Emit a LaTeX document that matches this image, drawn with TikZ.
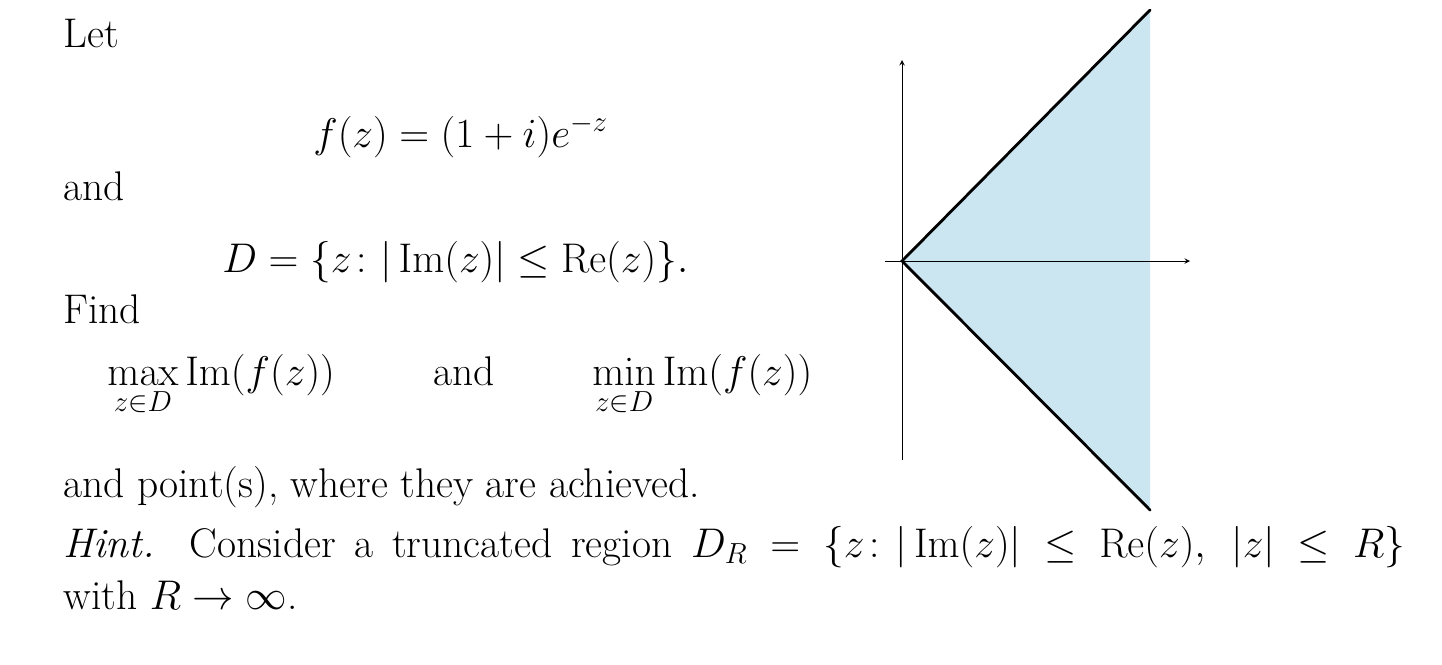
\RequirePackage{fix-cm}
\documentclass[tikz,border=0pt]{standalone}
\usepackage{amsmath}
\usepackage{amssymb}
\definecolor{regionblue}{RGB}{203,229,241}
\tikzset{
	txt/.style    = {anchor=base west, inner sep=0pt, font=\fontsize{23.6}{30}\selectfont},
	axis/.style   = {->, thin, >=stealth},
	edge/.style   = {line width=1.6pt, line cap=round},
	region/.style = {fill=regionblue}
}
\begin{document}
\begin{tikzpicture}[x=0.02cm, y=-0.02cm]
\useasboundingbox (0,0) rectangle (1442,664);
% text on the left
\node[txt] (let) at (63,47) {Let};
\node[txt] (fz) at (313,147) {$f(z)=(1+i)e^{-z}$};
\node[txt] (and1) at (63,200) {and};
\node[txt] (dom) at (222,272) {$D=\{z\colon|\operatorname{Im}(z)|\le\operatorname{Re}(z)\}.$};
\node[txt] (find) at (63,323) {Find};
\node[txt] (max) at (107,385) {$\displaystyle\max_{z\in D}\operatorname{Im}(f(z))$};
\node[txt] (and2) at (433,385) {and};
\node[txt] (min) at (592,385) {$\displaystyle\min_{z\in D}\operatorname{Im}(f(z))$};
\node[txt] (pts) at (63,497) {and point(s), where they are achieved.};
\node[txt, text width=26.84cm, align=justify] (hint) at (63,557)
	{\emph{Hint.} Consider a truncated region $D_R=\{z\colon|\operatorname{Im}(z)|\le\operatorname{Re}(z),\ |z|\le R\}$\linebreak with $R\to\infty$.};
% the region D
\coordinate (o) at (902,261);
\coordinate (top) at (1150,10);
\coordinate (bot) at (1150,510);
\fill[region] (o) -- (top) -- (bot) -- cycle;
\draw[axis] (902,460) -- (902,60);
\draw[axis] (885,261) -- (1190,261);
\draw[edge] (top) -- (o) -- (bot);
\end{tikzpicture}
\end{document}
